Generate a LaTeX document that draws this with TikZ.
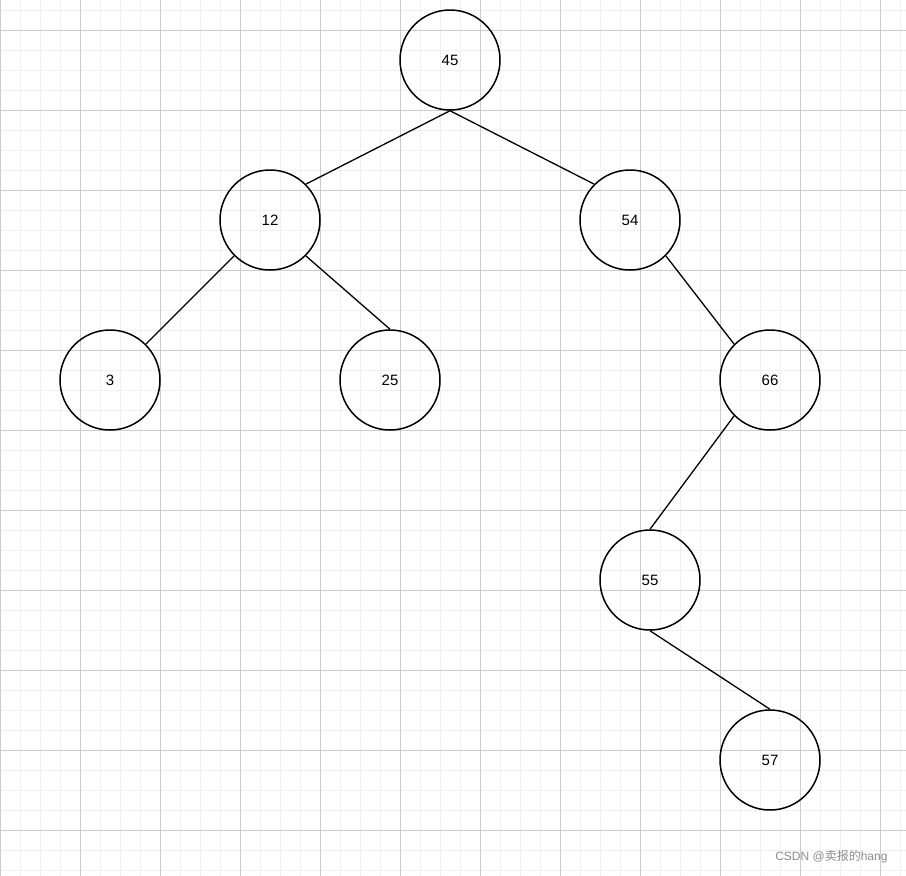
\documentclass[tikz,border=0pt]{standalone}
\usepackage{fontspec}
\setmainfont{Liberation Sans}
\newfontfamily\cjk{Noto Sans CJK SC}
\begin{document}
\begin{tikzpicture}[x=1pt,y=-1pt,
  tn/.style={circle,draw,line width=1.5pt,minimum size=100pt,inner sep=0pt,font=\fontsize{15}{18}\selectfont},
  edge/.style={line width=1.3pt}]
\useasboundingbox (0,0) rectangle (906,876);
\fill[white] (0,0) rectangle (906,876);
\foreach \x in {0,20,...,900} \draw[color=black!6,line width=1pt] (\x,0) -- (\x,876);
\foreach \y in {10,30,...,870} \draw[color=black!6,line width=1pt] (0,\y) -- (906,\y);
\foreach \x in {0,80,...,900} \draw[color=black!20,line width=0.8pt] (\x,0) -- (\x,876);
\foreach \y in {30,110,...,870} \draw[color=black!20,line width=0.8pt] (0,\y) -- (906,\y);
\node[tn] (n45) at (450,60) {45};
\node[tn] (n12) at (270,220) {12};
\node[tn] (n54) at (630,220) {54};
\node[tn] (n3) at (110,380) {3};
\node[tn] (n25) at (390,380) {25};
\node[tn] (n66) at (770,380) {66};
\node[tn] (n55) at (650,580) {55};
\node[tn] (n57) at (770,760) {57};
\draw[edge] (n45.south) -- (n12.45);
\draw[edge] (n45.south) -- (n54.135);
\draw[edge] (n12.225) -- (n3.45);
\draw[edge] (n12.315) -- (n25.north);
\draw[edge] (n54.315) -- (n66.135);
\draw[edge] (n66.225) -- (n55.north);
\draw[edge] (n55.south) -- (n57.north);
\node[anchor=east,text=black!45,font=\fontsize{12}{14}\selectfont] (wm) at (891,857) {CSDN @{\cjk 卖报的}hang};
\end{tikzpicture}
\end{document}
